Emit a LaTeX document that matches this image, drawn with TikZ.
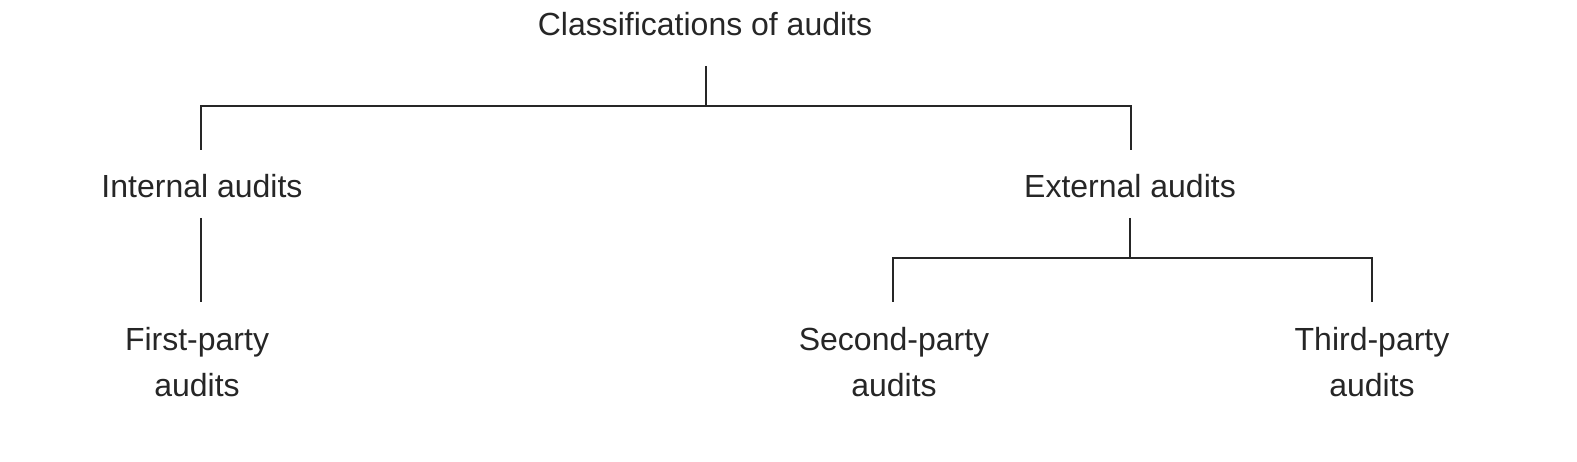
\documentclass[tikz,border=0pt]{standalone}
\usepackage{fontspec}
\setmainfont{Liberation Sans}
\begin{document}
\begin{tikzpicture}[x=1pt,y=-1pt,
  lab/.style={font=\fontsize{32}{46}\selectfont, align=center, text=black!85, inner sep=0pt},
  ln/.style={line width=1.3pt, black!85}]
\useasboundingbox (0,0) rectangle (1577,462);
\node[lab] (title) at (705,24) {Classifications of audits};
\node[lab] (int) at (202,186) {Internal audits};
\node[lab] (ext) at (1130,186) {External audits};
\node[lab] (first) at (197,362) {First-party\\audits};
\node[lab] (second) at (894,362) {Second-party\\audits};
\node[lab] (third) at (1372,362) {Third-party\\audits};
\coordinate (t0) at (706,66);
\coordinate (t1) at (706,106);
\coordinate (i0) at (201,150);
\coordinate (e0) at (1131,150);
\coordinate (i1) at (201,218);
\coordinate (f0) at (201,302);
\coordinate (e1) at (1130,218);
\coordinate (e2) at (1130,258);
\coordinate (s0) at (893,302);
\coordinate (h0) at (1372,302);
\draw[ln] (t0) -- (t1);
\draw[ln] (i0) |- (t1) -| (e0);
\draw[ln] (i1) -- (f0);
\draw[ln] (e1) -- (e2);
\draw[ln] (s0) |- (e2) -| (h0);
\end{tikzpicture}
\end{document}
